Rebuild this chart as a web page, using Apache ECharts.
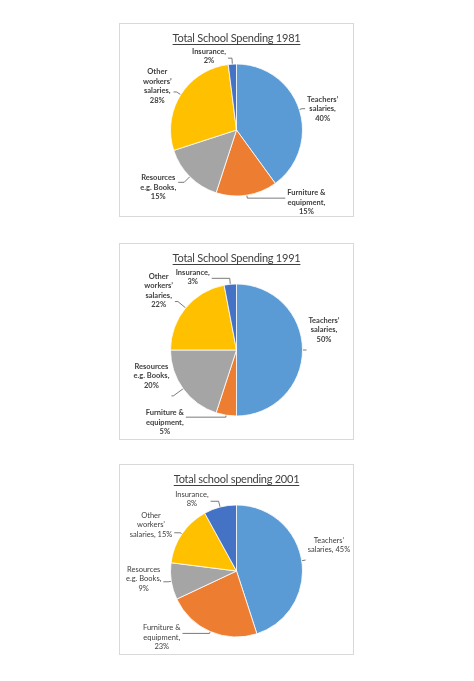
<!doctype html>
<html>
<head>
<meta charset="utf-8">
<title>Total School Spending</title>
<script src="https://cdn.jsdelivr.net/npm/echarts@6/dist/echarts.min.js"></script>
<style>
    body { margin: 0; background: #fff; }
    .panel { position: absolute; left: 119px; width: 235px; box-sizing: border-box; border: 1px solid #d9d9d9; background: #fff; }
    .ttl { position: absolute; left: 0; right: 0; top: 7px; text-align: center; font-family: Lato, "Liberation Sans", sans-serif;
           font-size: 11px; letter-spacing: -0.25px; color: #404040; text-decoration: underline; text-underline-offset: 2px; z-index: 2; }
    .chart { position: absolute; left: 0; top: 0; width: 100%; height: 100%; }
</style>
</head>
<body>
<div class="panel" style="top:23px;height:194px;">
    <div class="ttl">Total School Spending 1981</div>
    <div class="chart" id="c1981"></div>
</div>
<div class="panel" style="top:243px;height:197px;">
    <div class="ttl">Total School Spending 1991</div>
    <div class="chart" id="c1991"></div>
</div>
<div class="panel" style="top:464px;height:191px;">
    <div class="ttl">Total school spending 2001</div>
    <div class="chart" id="c2001"></div>
</div>
<script>
    // 数据
    var categories = ['Teachers’ salaries', 'Furniture & equipment', 'Resources e.g. Books', 'Other workers’ salaries', 'Insurance'];
    var colors = ['#5b9bd5', '#ed7d31', '#a5a5a5', '#ffc000', '#4472c4'];

    var values1981 = [40, 15, 15, 28, 2];
    var values1991 = [50, 5, 20, 22, 3];
    var values2001 = [45, 23, 9, 15, 8];

    // label text before the value
    var labels1981 = ['Teachers’\nsalaries,\n', 'Furniture &\nequipment,\n', 'Resources\ne.g. Books,\n', 'Other\nworkers’\nsalaries,\n', 'Insurance,\n'];
    var labels1991 = ['Teachers’\nsalaries,\n', 'Furniture &\nequipment,\n', 'Resources\ne.g. Books,\n', 'Other\nworkers’\nsalaries,\n', 'Insurance,\n'];
    var labels2001 = ['Teachers’\nsalaries, ', 'Furniture &\nequipment,\n', 'Resources\ne.g. Books,\n', 'Other\nworkers’\nsalaries, ', 'Insurance,\n'];

    // leader line lengths [length, length2] and label vertical nudge, per slice
    var lines1981 = [[3, 3], [3, 38], [8, 6], [5, 3], [6, 4]];
    var lines1991 = [[4, 0], [2, 40], [12, 2], [10, 3], [6, 18]];
    var lines2001 = [[4, 0], [2, 27], [3, 5], [2, 6], [6, 8]];
    var dy1981 = [0, 4, 5, -6, -2];
    var dy1991 = [-20, 5, -20, -11, -1];
    var dy2001 = [-15, 4, -3, -8, -2];

    function drawPie(id, values, labels, lines, dys, bold) {
        var chart = echarts.init(document.getElementById(id));
        var data = [];
        for (var i = 0; i < categories.length; i++) {
            data.push({
                name: categories[i],
                value: values[i],
                labelLine: {length: lines[i][0], length2: lines[i][1]}
            });
        }
        chart.setOption({
            animation: false,
            color: colors,
            series: [{
                type: 'pie',
                center: ['50%', 106],
                radius: 66,
                startAngle: 90,
                clockwise: true,
                avoidLabelOverlap: false,
                data: data,
                itemStyle: {borderColor: '#fff', borderWidth: 0.8},
                label: {
                    position: 'outside',
                    overflow: 'none',
                    distanceToLabelLine: 2,
                    formatter: function (p) {
                        var txt = labels[p.dataIndex] + p.value + '%';
                        return txt.split('\n').map(function (s) { return '{c|' + s + '}'; }).join('\n');
                    },
                    rich: {
                        c: {
                            align: 'center',
                            fontFamily: 'Lato',
                            fontSize: 7.5,
                            fontWeight: bold ? 'bold' : 'normal',
                            color: '#404040',
                            lineHeight: 9.5
                        }
                    }
                },
                labelLine: {
                    show: true,
                    lineStyle: {color: '#595959', width: 0.8}
                },
                labelLayout: function (p) {
                    return {dy: dys[p.dataIndex]};
                }
            }]
        });
        return chart;
    }

    drawPie('c1981', values1981, labels1981, lines1981, dy1981, true);
    drawPie('c1991', values1991, labels1991, lines1991, dy1991, true);
    drawPie('c2001', values2001, labels2001, lines2001, dy2001, false);
</script>
</body>
</html>
